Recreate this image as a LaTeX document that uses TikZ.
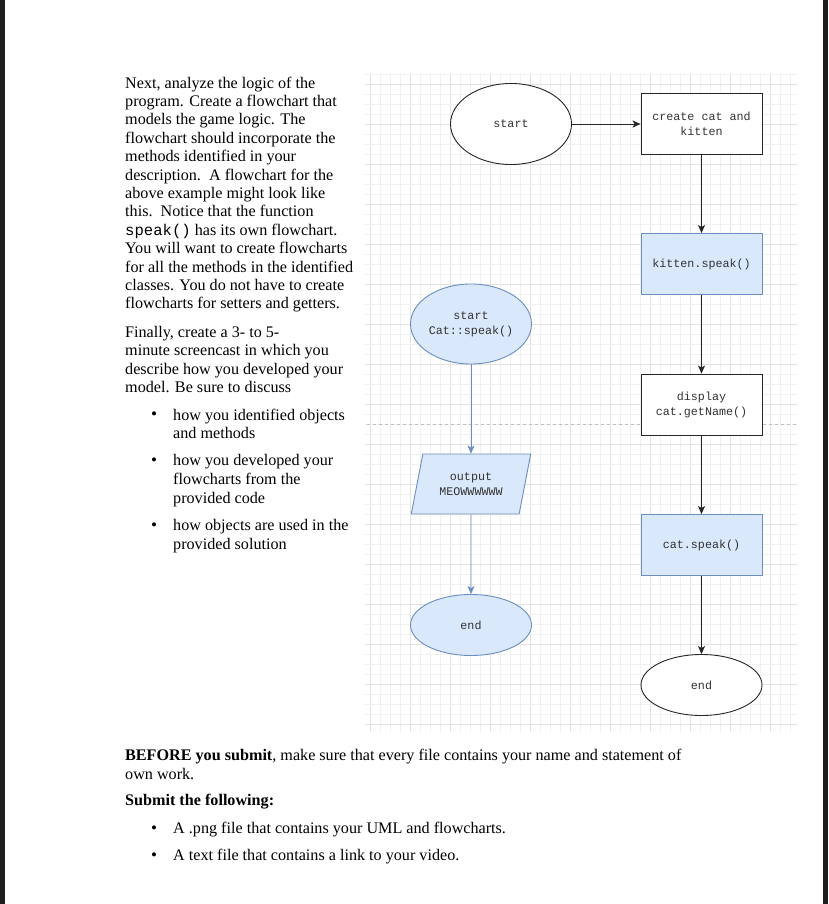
\documentclass[tikz,border=0pt]{standalone}
\usepackage{fontspec}
\setmainfont{Liberation Serif}
\setmonofont{Liberation Mono}
\usetikzlibrary{shapes.geometric,arrows.meta}
\definecolor{boxblue}{HTML}{DAE8FC}
\definecolor{lineblue}{HTML}{6C8EBF}
\definecolor{gridmajor}{HTML}{E2E2E2}
\definecolor{gridminor}{HTML}{F1F1F1}
\definecolor{pageedge}{HTML}{1E1E1E}
\definecolor{codetext}{HTML}{333333}
\newcommand{\bodyfont}{\fontsize{16.15}{18.4}\selectfont}
\tikzset{
  chartshape/.style={draw, line width=0.9pt, inner sep=0pt, align=center, text=codetext,
    font=\fontsize{11.7}{15}\ttfamily},
  procbox/.style={chartshape, rectangle, minimum width=121pt, minimum height=61pt},
  termbox/.style={chartshape, ellipse, minimum width=121pt, minimum height=61pt},
  iobox/.style={chartshape, trapezium, trapezium left angle=71.6, trapezium right angle=108.4,
    trapezium stretches=true, minimum width=120pt, minimum height=60pt},
  bluebox/.style={fill=boxblue, draw=lineblue},
  plainbox/.style={fill=white, draw=black!85},
  link/.style={line width=0.9pt, black!85, -{Stealth[length=8pt,width=7pt,inset=2pt]}},
  bluelink/.style={link, lineblue, line width=0.8pt},
  bodytext/.style={anchor=north west, inner sep=0pt, align=left, font=\bodyfont},
  bulletmark/.style={anchor=base west, inner sep=0pt, font=\fontsize{17}{18}\selectfont},
}

\begin{document}
\begin{tikzpicture}[x=1pt, y=-1pt]
\useasboundingbox (0,0) rectangle (828,904);
\fill[white] (0,0) rectangle (828,904);
\fill[pageedge] (0,0) rectangle (5,904);
\fill[pageedge] (823,0) rectangle (828,904);

% grid behind the flowcharts
\foreach \gx in {0,...,42} {
  \pgfmathtruncatemacro{\major}{mod(\gx,4)==0}
  \ifnum\major=1
    \draw[gridmajor, line width=0.8pt] (370.7+10*\gx,73) -- (370.7+10*\gx,732);
  \else
    \draw[gridminor, line width=0.8pt] (370.7+10*\gx,73) -- (370.7+10*\gx,732);
  \fi
}
\foreach \gy in {0,...,65} {
  \pgfmathtruncatemacro{\major}{mod(\gy,4)==1}
  \ifnum\major=1
    \draw[gridmajor, line width=0.8pt] (365,74+10*\gy) -- (797,74+10*\gy);
  \else
    \draw[gridminor, line width=0.8pt] (365,74+10*\gy) -- (797,74+10*\gy);
  \fi
}
\draw[black!25, dashed, line width=0.6pt] (367,424.3) -- (797,424.3);

% main program
\node[termbox, plainbox, minimum height=81pt] (mainstart) at (511,124) {start};
\node[procbox, plainbox] (makepets) at (701.5,124) {create cat and\\kitten};
\node[procbox, bluebox] (kittenspeak) at (701.5,264) {kitten.speak()};
\node[procbox, plainbox] (showname) at (701.5,404.5) {display\\cat.getName()};
\node[procbox, bluebox] (catspeak) at (701.5,545) {cat.speak()};
\node[termbox, plainbox] (mainend) at (701.5,685) {end};

% Cat::speak()
\node[termbox, bluebox, minimum height=80pt] (speakstart) at (471,324) {start\\Cat::speak()};
\node[iobox, bluebox] (meow) at (471,484) {output\\MEOWWWWWW};
\node[termbox, bluebox] (speakend) at (471,625) {end};

\draw[link] (mainstart) -- (makepets);
\draw[link] (makepets) -- (kittenspeak);
\draw[link] (kittenspeak) -- (showname);
\draw[link] (showname) -- (catspeak);
\draw[link] (catspeak) -- (mainend);
\draw[bluelink] (speakstart) -- (meow);
\draw[bluelink] (meow) -- (speakend);

% page text
\node[bodytext] (intro) at (125,76.6) {Next, analyze the logic of the\\
program. Create a flowchart that\\
models the game logic. The\\
flowchart should incorporate the\\
methods identified in your\\
description.\ \ A flowchart for the\\
above example might look like\\
this.\ \ Notice that the function\\
{\fontsize{15.6}{18.4}\ttfamily speak()} has its own flowchart.\\
You will want to create flowcharts\\
for all the methods in the identified\\
classes. You do not have to create\\
flowcharts for setters and getters.};
\node[bodytext] (finally) at (125,325.9) {Finally, create a 3- to 5-\\
minute screencast in which you\\
describe how you developed your\\
model. Be sure to discuss};
\node[bulletmark] (dotA) at (151,419.7) {\textbullet};
\node[bodytext, font=\fontsize{16.15}{18.8}\selectfont] (itemA) at (173,408.6) {how you identified objects\\and methods};
\node[bulletmark] (dotB) at (151,465.4) {\textbullet};
\node[bodytext, font=\fontsize{16.15}{18.8}\selectfont] (itemB) at (173,454.3) {how you developed your\\flowcharts from the\\provided code};
\node[bulletmark] (dotC) at (151,530.4) {\textbullet};
\node[bodytext, font=\fontsize{16.15}{18.8}\selectfont] (itemC) at (173,519.3) {how objects are used in the\\provided solution};

\node[bodytext, font=\fontsize{16.15}{19}\selectfont] (before) at (125,748.6) {\textbf{BEFORE you submit}, make sure that every file contains your name and statement of\\own work.};
\node[bodytext] (submit) at (125,794.3) {\textbf{Submit the following:}};
\node[bulletmark] (dotD) at (151,833) {\textbullet};
\node[bodytext] (itemD) at (173,821.9) {A .png file that contains your UML and flowcharts.};
\node[bulletmark] (dotE) at (151,860.4) {\textbullet};
\node[bodytext] (itemE) at (173,849.3) {A text file that contains a link to your video.};
\end{tikzpicture}
\end{document}
